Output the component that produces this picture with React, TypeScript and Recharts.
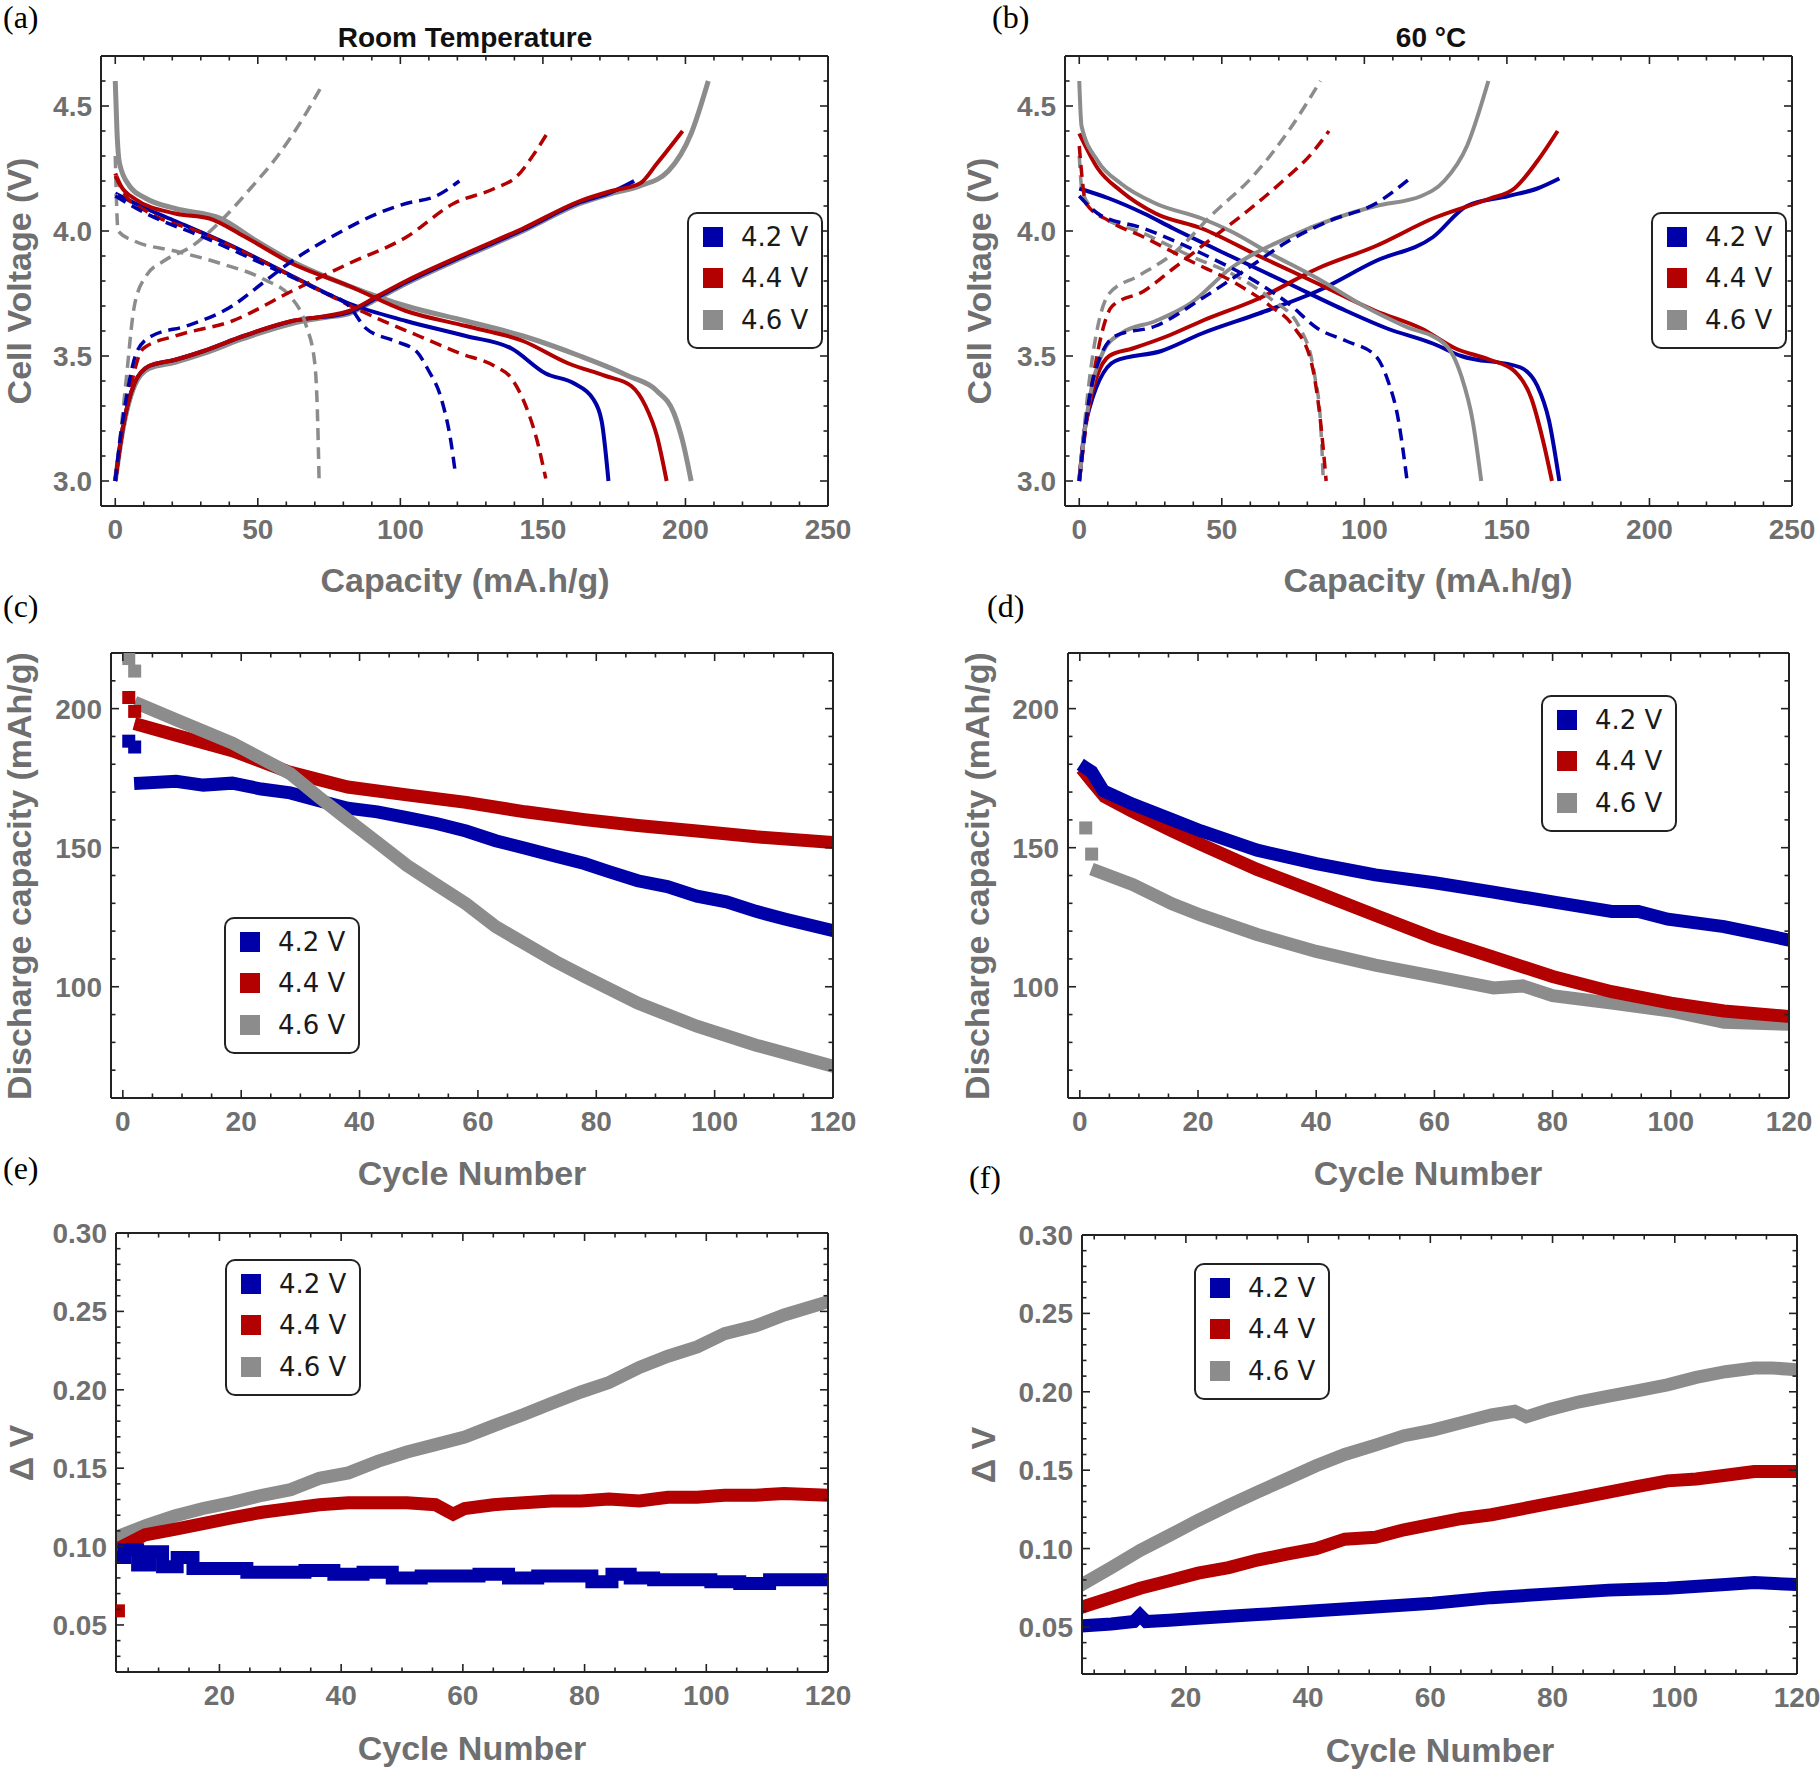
import React from "react";
import { ComposedChart, Line, Scatter, XAxis, YAxis } from "recharts";

// colours used by every panel
const BLUE = "#0000a8";
const RED = "#b30000";
const GRAY = "#8c8c8c";
const FRAME = "#222";
const TICK_TEXT = "#6f6f6f";

type Pt = [number, number];

// ---------- (a) room temperature voltage profiles: [capacity mAh/g, V] ----------
const rtChargeBlue: Pt[] = [[0, 3.0], [2.6, 3.21], [6.7, 3.39], [11.8, 3.46], [21, 3.485], [31, 3.52], [45, 3.58], [62, 3.64], [82, 3.675], [92, 3.735], [102, 3.795], [123, 3.905], [143, 4.005], [163, 4.115], [174, 4.155], [182, 4.2]];
const rtDischargeBlue: Pt[] = [[0, 4.15], [10.8, 4.09], [21, 4.04], [41, 3.94], [62, 3.82], [82, 3.71], [102, 3.64], [123, 3.58], [139, 3.53], [151, 3.43], [161, 3.39], [167.5, 3.33], [170.6, 3.24], [173, 3.0]];
const rtChargeRed: Pt[] = [[0, 3.0], [2.6, 3.21], [6.7, 3.39], [11.8, 3.46], [21, 3.485], [31, 3.52], [45, 3.58], [62, 3.64], [74, 3.66], [82, 3.68], [92, 3.74], [102, 3.8], [123, 3.91], [143, 4.01], [163, 4.12], [174, 4.16], [184, 4.19], [190, 4.27], [199, 4.4]];
const rtDischargeRed: Pt[] = [[0, 4.23], [2, 4.18], [6.7, 4.13], [21, 4.07], [33, 4.05], [45, 3.98], [62, 3.87], [82, 3.78], [102, 3.68], [123, 3.62], [143, 3.56], [159, 3.47], [172, 3.42], [181, 3.38], [186, 3.3], [190, 3.18], [193.4, 3.0]];
const rtChargeGray: Pt[] = [[0, 3.0], [2.6, 3.2], [6.7, 3.38], [11.8, 3.45], [21, 3.475], [31, 3.51], [45, 3.57], [62, 3.63], [74, 3.655], [82, 3.67], [92, 3.73], [102, 3.79], [123, 3.9], [143, 4.0], [163, 4.11], [174, 4.15], [184, 4.18], [194, 4.24], [202, 4.39], [208, 4.6]];
const rtDischargeGray: Pt[] = [[0, 4.6], [0.6, 4.4], [1.5, 4.27], [5, 4.18], [10.8, 4.13], [21, 4.09], [37, 4.05], [49.5, 3.96], [61.7, 3.88], [82, 3.78], [102, 3.7], [123, 3.64], [143, 3.58], [163, 3.5], [180, 3.42], [190, 3.36], [196, 3.27], [199, 3.16], [202, 3.0]];
const rtAgedChargeBlue: Pt[] = [[0, 3.0], [1.5, 3.15], [3.7, 3.32], [7.7, 3.52], [12.8, 3.58], [25, 3.62], [41, 3.7], [51.5, 3.79], [62, 3.88], [78, 3.99], [92, 4.07], [102, 4.11], [112.6, 4.14], [120.7, 4.2]];
const rtAgedDischargeBlue: Pt[] = [[0, 4.14], [10.8, 4.07], [31, 3.975], [51.5, 3.87], [72, 3.76], [82, 3.7], [88, 3.61], [98, 3.56], [105.5, 3.52], [109.5, 3.45], [114.6, 3.32], [117.7, 3.16], [119.3, 3.03]];
const rtAgedChargeRed: Pt[] = [[0, 3.0], [1.5, 3.12], [3.7, 3.27], [9.8, 3.53], [21, 3.58], [41, 3.64], [62, 3.76], [82, 3.87], [102, 3.975], [118.7, 4.11], [133, 4.17], [141, 4.22], [147, 4.31], [152, 4.4]];
const rtAgedDischargeRed: Pt[] = [[0, 4.22], [3.7, 4.14], [10.8, 4.08], [31, 3.99], [51.5, 3.88], [72, 3.76], [92, 3.65], [106.5, 3.58], [121, 3.51], [133, 3.46], [139, 3.41], [144, 3.3], [148, 3.16], [151, 3.01]];
const rtAgedChargeGray: Pt[] = [[0, 3.0], [1.6, 3.16], [3.7, 3.39], [6.7, 3.7], [10.8, 3.82], [17, 3.88], [27, 3.94], [37, 4.04], [47.4, 4.17], [57.6, 4.31], [65.8, 4.45], [72.9, 4.59]];
const rtAgedDischargeGray: Pt[] = [[0, 4.3], [1, 4.0], [6.7, 3.96], [21, 3.92], [37, 3.87], [51.5, 3.81], [62, 3.73], [67, 3.62], [70, 3.47], [71, 3.24], [71.5, 3.0]];

// ---------- (b) 60 °C voltage profiles ----------
const htChargeBlue: Pt[] = [[0, 3.0], [2.4, 3.24], [12.6, 3.48], [28.8, 3.52], [43, 3.59], [63, 3.67], [83.6, 3.76], [104, 3.88], [124, 3.975], [136, 4.1], [150.5, 4.14], [160.7, 4.17], [168.4, 4.21]];
const htDischargeBlue: Pt[] = [[0, 4.17], [10.5, 4.13], [22.7, 4.07], [33, 4.01], [53, 3.9], [73.4, 3.79], [93.7, 3.68], [108, 3.61], [124, 3.55], [134, 3.5], [154.6, 3.455], [160.7, 3.38], [164.8, 3.24], [168.4, 3.0]];
const htChargeRed: Pt[] = [[0, 3.0], [2.4, 3.24], [10.5, 3.5], [18.7, 3.53], [31, 3.58], [43, 3.64], [63, 3.73], [83.6, 3.85], [104, 3.94], [124, 4.05], [144, 4.13], [152.6, 4.17], [160.7, 4.28], [167.8, 4.4]];
const htDischargeRed: Pt[] = [[0, 4.39], [6.5, 4.25], [14.6, 4.16], [26.8, 4.07], [43, 4.01], [63, 3.9], [83.6, 3.79], [104, 3.68], [120, 3.61], [132, 3.53], [144, 3.485], [152.6, 3.44], [158.6, 3.33], [162.7, 3.16], [165.8, 3.0]];
const htChargeGray: Pt[] = [[0, 3.0], [2.4, 3.24], [8.5, 3.52], [14.6, 3.59], [26.8, 3.64], [39, 3.71], [53, 3.85], [73.4, 3.975], [89.6, 4.05], [104, 4.1], [120, 4.14], [128, 4.2], [136, 4.34], [143.5, 4.6]];
const htDischargeGray: Pt[] = [[0, 4.6], [0.8, 4.42], [6.5, 4.28], [14.6, 4.19], [26.8, 4.11], [43, 4.05], [53, 4.0], [67, 3.91], [83.6, 3.81], [99.8, 3.7], [114, 3.62], [128, 3.55], [134, 3.42], [138, 3.24], [141, 3.0]];
const htAgedChargeBlue: Pt[] = [[0, 3.0], [4.5, 3.39], [12.6, 3.58], [26.8, 3.62], [43, 3.73], [59, 3.85], [73.4, 3.96], [87.6, 4.04], [104, 4.11], [116, 4.21]];
const htAgedDischargeBlue: Pt[] = [[0, 4.14], [6.5, 4.07], [22.7, 4.01], [43, 3.91], [63, 3.79], [73.4, 3.71], [83.6, 3.61], [93.7, 3.56], [104, 3.5], [108, 3.41], [112, 3.24], [115, 3.0]];
const htAgedChargeRed: Pt[] = [[0, 3.0], [4.5, 3.39], [11.6, 3.7], [22.7, 3.76], [33, 3.85], [47, 3.975], [59, 4.08], [71.4, 4.2], [81.5, 4.31], [87.6, 4.4]];
const htAgedDischargeRed: Pt[] = [[0, 4.34], [2.4, 4.11], [10.5, 4.04], [22.7, 3.975], [39, 3.88], [55, 3.79], [67, 3.7], [75, 3.62], [81.5, 3.47], [84.6, 3.24], [86.6, 3.0]];
const htAgedChargeGray: Pt[] = [[0, 3.0], [3.4, 3.39], [10.5, 3.75], [20.7, 3.82], [33, 3.91], [47, 4.07], [61, 4.22], [73.4, 4.4], [84.6, 4.6]];
const htAgedDischargeGray: Pt[] = [[0, 4.3], [1, 4.16], [6.5, 4.07], [22.7, 3.99], [39, 3.9], [55, 3.82], [67, 3.73], [77.5, 3.61], [82.6, 3.42], [84.6, 3.24], [85.6, 3.0]];

// ---------- (c) discharge capacity, room temperature: [cycle, mAh/g] ----------
const rtCapBlueFirst: Pt[] = [[1, 188.3], [2, 186.2]];
const rtCapBlue: Pt[] = [[3, 173.2], [9, 173.9], [13.6, 172.5], [18.5, 173.2], [23.4, 171.1], [28.3, 169.7], [33, 167], [38, 164.2], [43, 162.9], [48, 160.8], [53, 158.7], [58, 156], [63, 152.5], [68, 149.8], [73, 147], [78, 144.3], [82, 141.5], [87, 138.1], [92, 136], [97, 132.6], [102, 130.5], [107, 127.1], [112, 124.3], [120, 120.2]];
const rtCapRedFirst: Pt[] = [[1, 204], [2, 199]];
const rtCapRed: Pt[] = [[3, 194], [9, 190.4], [18.5, 184.9], [28, 177.3], [38, 171.8], [48, 169], [58, 166.3], [68, 162.9], [78, 160.1], [87, 158], [97, 156], [107, 153.9], [120, 151.9]];
const rtCapGrayFirst: Pt[] = [[1, 218], [2, 213.5]];
const rtCapGray: Pt[] = [[3, 201.4], [9, 196], [18.5, 187.6], [28.3, 176.6], [33, 168.4], [38, 160.1], [43, 151.9], [48, 143.6], [53, 136.7], [58, 129.8], [63, 121.6], [68, 115.4], [73, 109.2], [78, 103.7], [87, 94.1], [97, 85.8], [107, 79], [120, 71.4]];

// ---------- (d) discharge capacity, 60 °C ----------
const htCapBlue: Pt[] = [[1, 178.7], [2, 177.3], [4, 170.4], [9, 165.6], [15.6, 160.1], [20.5, 156], [30, 149.1], [40, 144.3], [50, 140.2], [60, 137.4], [70, 134], [80, 130.5], [90, 127.1], [94.5, 127.1], [99.5, 124.3], [109, 121.6], [120, 116.8]];
const htCapRed: Pt[] = [[1, 176.6], [2.3, 173.2], [4.2, 168.4], [9, 162.9], [15.6, 156], [20.5, 151.2], [30, 142.2], [40, 134], [50, 125.7], [60, 117.5], [70, 110.6], [80, 103.7], [90, 98.2], [100, 94.1], [109, 91.3], [120, 89.3]];
const htCapGrayFirst: Pt[] = [[1, 157.1], [2, 147.7]];
const htCapGray: Pt[] = [[3, 141.5], [9, 136.7], [15.6, 129.8], [20.5, 125.7], [30, 118.8], [40, 112.7], [50, 107.8], [60, 103.7], [70, 99.6], [75, 100.3], [80, 96.8], [90, 94.1], [100, 91.3], [109, 87.2], [120, 86.5]];

// ---------- (e) ΔV, room temperature: [cycle, V] ----------
const rtDvBlue: Pt[] = [[3, 0.093], [5.8, 0.098], [7.3, 0.0883], [9.7, 0.0967], [11.6, 0.0872], [14.5, 0.0931], [16.8, 0.086], [22, 0.086], [27, 0.0836], [31.7, 0.0836], [36.4, 0.0848], [41.2, 0.0824], [46, 0.0836], [50.8, 0.08], [55.5, 0.0812], [60.3, 0.0812], [65, 0.0824], [70, 0.08], [74.6, 0.0812], [79.4, 0.0812], [83, 0.0776], [86, 0.0824], [89, 0.08], [93.7, 0.0788], [98.5, 0.0788], [103, 0.0776], [108, 0.0764], [112.8, 0.0788], [120, 0.0788]];
const rtDvRedFirst: Pt[] = [[3.4, 0.059]];
const rtDvRed: Pt[] = [[4, 0.1], [7.8, 0.1075], [12.6, 0.111], [17.3, 0.1147], [22, 0.1183], [27, 0.1219], [31.7, 0.1243], [36.4, 0.1267], [41.2, 0.128], [46, 0.128], [50.8, 0.128], [55.5, 0.1267], [58.4, 0.1207], [60.3, 0.1243], [65, 0.1267], [70, 0.128], [74.6, 0.1291], [79.4, 0.1291], [84, 0.1303], [89, 0.1291], [93.7, 0.1315], [98.5, 0.1315], [103, 0.1327], [108, 0.1327], [112.8, 0.1339], [120, 0.1327]];
const rtDvGray: Pt[] = [[3, 0.106], [8, 0.1135], [12.6, 0.1195], [17.3, 0.1243], [22, 0.128], [27, 0.1327], [31.7, 0.1363], [36.4, 0.1435], [41.2, 0.147], [46, 0.1543], [50.8, 0.1603], [55.5, 0.165], [60.3, 0.1698], [65, 0.177], [70, 0.1842], [74.6, 0.1914], [79.4, 0.1986], [84, 0.2046], [89, 0.2142], [93.7, 0.2214], [98.5, 0.2274], [103, 0.2358], [108, 0.2406], [112.8, 0.2477], [120, 0.2561]];

// ---------- (f) ΔV, 60 °C ----------
const htDvBlue: Pt[] = [[3, 0.0507], [7.8, 0.0519], [11.5, 0.0535], [12.5, 0.0575], [13.5, 0.0535], [17.3, 0.0543], [22, 0.0555], [31.7, 0.0579], [41.3, 0.0603], [51, 0.0627], [60.4, 0.0651], [70, 0.0687], [79.6, 0.0711], [89.2, 0.0735], [98.8, 0.0747], [108.3, 0.0771], [113, 0.0783], [120, 0.0771]];
const htDvRed: Pt[] = [[3, 0.0627], [7.8, 0.0687], [12.5, 0.0747], [17.3, 0.0795], [22, 0.0843], [27, 0.0879], [31.7, 0.0927], [36.5, 0.0964], [41.3, 0.1], [46, 0.106], [51, 0.1072], [55.7, 0.112], [60.4, 0.1156], [65.2, 0.1192], [70, 0.1216], [74.8, 0.1252], [79.6, 0.1288], [84.4, 0.1324], [89.2, 0.136], [94, 0.1396], [98.8, 0.1432], [103.5, 0.1444], [108.3, 0.1468], [113, 0.1492], [120, 0.1492]];
const htDvGray: Pt[] = [[3, 0.0771], [7.8, 0.0879], [12.5, 0.0988], [17.3, 0.1084], [22, 0.118], [27, 0.1276], [31.7, 0.136], [36.5, 0.1444], [41.3, 0.1528], [46, 0.16], [51, 0.166], [55.7, 0.172], [60.4, 0.1756], [65.2, 0.1804], [70, 0.1852], [73.8, 0.1876], [75.7, 0.184], [79.6, 0.1888], [84.4, 0.1936], [89.2, 0.1972], [94, 0.2008], [98.8, 0.2044], [103.5, 0.2092], [108.3, 0.2128], [113, 0.2152], [116, 0.2152], [120, 0.214]];

// ---------- legend + tick labels ----------
const legendLabels = ["4.2 V", "4.4 V", "4.6 V"];
const legendColors = [BLUE, RED, GRAY];

const capMajor = [0, 50, 100, 150, 200, 250];
const voltMajor = [3.0, 3.5, 4.0, 4.5];
const cycleMajorCD = [0, 20, 40, 60, 80, 100, 120];
const dischargeMajor = [100, 150, 200];
const cycleMajorEF = [20, 40, 60, 80, 100, 120];
const dvMajor = [0.05, 0.1, 0.15, 0.2, 0.25, 0.3];

const range = (a: number, b: number, s: number) => {
  const out: number[] = [];
  for (let v = a; v <= b + s / 1000; v += s) out.push(Math.round(v * 1000) / 1000);
  return out;
};

const toRows = (arr: Pt[]) => arr.map(([x, y]) => ({ x, y }));

const PADL = 110;
const PADR = 40;
const PADT = 24;
const PADB = 50;

type Side = "bottom" | "top" | "left" | "right";

const renderTick = (side: Side, major: number[], fmt?: (v: number) => string) => (p: any) => {
  const { x, y, payload } = p;
  const v = payload.value;
  const isMajor = major.some((m) => Math.abs(m - v) < 1e-6);
  const len = isMajor ? 8 : 4.5;
  let x2 = x;
  let y2 = y;
  if (side === "bottom") y2 = y - len;
  if (side === "top") y2 = y + len;
  if (side === "left") x2 = x + len;
  if (side === "right") x2 = x - len;
  let label = null;
  if (fmt && isMajor) {
    const common = { fontFamily: "'Liberation Sans', Arial, sans-serif", fontWeight: 700, fontSize: 28, fill: TICK_TEXT };
    label =
      side === "bottom" ? (
        <text x={x} y={y + 33} textAnchor="middle" {...common}>{fmt(v)}</text>
      ) : (
        <text x={x - 9} y={y + 10} textAnchor="end" {...common}>{fmt(v)}</text>
      );
  }
  return (
    <g>
      <line x1={x} y1={y} x2={x2} y2={y2} stroke={FRAME} strokeWidth={1.6} />
      {label}
    </g>
  );
};

interface PanelProps {
  frame: [number, number, number, number];
  xDomain: [number, number];
  yDomain: [number, number];
  xMajor: number[];
  xTicks: number[];
  yMajor: number[];
  yTicks: number[];
  xFmt: (v: number) => string;
  yFmt: (v: number) => string;
  series: React.ReactNode[];
}

function Panel({ frame, xDomain, yDomain, xMajor, xTicks, yMajor, yTicks, xFmt, yFmt, series }: PanelProps) {
  const [l, t, r, b] = frame;
  const width = r - l + PADL + PADR;
  const height = b - t + PADT + PADB;
  const axisLine = { stroke: FRAME, strokeWidth: 2 };
  return (
    <div style={{ position: "absolute", left: l - PADL, top: t - PADT, width, height }}>
      <ComposedChart width={width} height={height} margin={{ top: 0, right: 0, bottom: 0, left: 0 }}>
        <XAxis xAxisId="main" dataKey="x" type="number" domain={xDomain} allowDataOverflow ticks={xTicks} interval={0}
          orientation="bottom" height={PADB} tickSize={0} tickMargin={0} tickLine={false} axisLine={axisLine}
          tick={renderTick("bottom", xMajor, xFmt)} />
        <XAxis xAxisId="top" dataKey="x" type="number" domain={xDomain} allowDataOverflow ticks={xTicks} interval={0}
          orientation="top" height={PADT} tickSize={0} tickMargin={0} tickLine={false} axisLine={axisLine}
          tick={renderTick("top", xMajor)} />
        <YAxis yAxisId="main" type="number" domain={yDomain} allowDataOverflow ticks={yTicks} interval={0}
          orientation="left" width={PADL} tickSize={0} tickMargin={0} tickLine={false} axisLine={axisLine}
          tick={renderTick("left", yMajor, yFmt)} />
        <YAxis yAxisId="right" type="number" domain={yDomain} allowDataOverflow ticks={yTicks} interval={0}
          orientation="right" width={PADR} tickSize={0} tickMargin={0} tickLine={false} axisLine={axisLine}
          tick={renderTick("right", yMajor)} />
        {series}
      </ComposedChart>
    </div>
  );
}

// thin voltage curve
const curve = (key: string, arr: Pt[], color: string, dashed = false, w = 4) => (
  <Line key={key} xAxisId="main" yAxisId="main" data={toRows(arr)} dataKey="y" type="monotone" stroke={color}
    strokeWidth={w} strokeDasharray={dashed ? "12 7" : undefined} dot={false} activeDot={false} isAnimationActive={false} />
);

// thick band of square markers
const band = (key: string, arr: Pt[], color: string, step = false) => (
  <Line key={key} xAxisId="main" yAxisId="main" data={toRows(arr)} dataKey="y" type={step ? "step" : "linear"} stroke={color}
    strokeWidth={13} strokeLinecap="square" strokeLinejoin="miter" dot={false} activeDot={false} isAnimationActive={false} />
);

const squares = (key: string, arr: Pt[], color: string) => (
  <Scatter key={key} xAxisId="main" yAxisId="main" data={toRows(arr)} dataKey="y" isAnimationActive={false}
    shape={(p: any) => <rect x={p.cx - 6.5} y={p.cy - 6.5} width={13} height={13} fill={color} />} />
);

function LegendBox({ left, top }: { left: number; top: number }) {
  return (
    <div style={{ position: "absolute", left, top, width: 136, height: 137, boxSizing: "border-box", border: `2px solid ${FRAME}`, borderRadius: 10, background: "#fff" }}>
      {legendLabels.map((lab, i) => (
        <React.Fragment key={lab}>
          <div style={{ position: "absolute", left: 14, top: 12.7 + i * 41.7, width: 20, height: 20, background: legendColors[i] }} />
          <div style={{ position: "absolute", left: 52, top: 7.7 + i * 41.7, lineHeight: "30px", fontSize: 26, fontFamily: "'DejaVu Sans', sans-serif", color: "#1a1a1a", whiteSpace: "nowrap" }}>{lab}</div>
        </React.Fragment>
      ))}
    </div>
  );
}

const f0 = (v: number) => String(v);
const f1 = (v: number) => v.toFixed(1);
const f2 = (v: number) => v.toFixed(2);

export default function App() {
  const capTicks = range(0, 250, 10);
  const voltTicks = range(3.0, 4.6, 0.1);
  const cycTicksCD = range(0, 120, 5);
  const dischTicks = range(70, 210, 10);
  const cycTicksEF = range(5, 120, 5);
  const dvTicks = range(0.03, 0.3, 0.01);

  const sans = "'Liberation Sans', Arial, sans-serif";
  const axisTitle = { fontFamily: sans, fontWeight: 700, fontSize: 34, fill: TICK_TEXT };
  const panelTag = { fontFamily: "'Liberation Serif', 'Times New Roman', serif", fontSize: 32, fill: "#000" };
  const title = { fontFamily: sans, fontWeight: 700, fontSize: 28, fill: "#111" };

  return (
    <div style={{ position: "absolute", left: 0, top: 0, width: 1820, height: 1771, background: "#fff", overflow: "hidden" }}>
      <Panel frame={[101, 56, 828, 506]} xDomain={[-5, 250]} yDomain={[2.9, 4.7]} xMajor={capMajor} xTicks={capTicks}
        yMajor={voltMajor} yTicks={voltTicks} xFmt={f0} yFmt={f1}
        series={[
          curve("a1", rtChargeGray, GRAY, false, 5), curve("a2", rtDischargeGray, GRAY, false, 5),
          curve("a3", rtChargeBlue, BLUE), curve("a4", rtDischargeBlue, BLUE),
          curve("a5", rtChargeRed, RED), curve("a6", rtDischargeRed, RED),
          curve("a7", rtAgedChargeGray, GRAY, true, 3.5), curve("a8", rtAgedDischargeGray, GRAY, true, 3.5),
          curve("a9", rtAgedChargeRed, RED, true, 3.5), curve("a10", rtAgedDischargeRed, RED, true, 3.5),
          curve("a11", rtAgedChargeBlue, BLUE, true, 3.5), curve("a12", rtAgedDischargeBlue, BLUE, true, 3.5),
        ]} />
      <Panel frame={[1065, 56, 1792, 506]} xDomain={[-5, 250]} yDomain={[2.9, 4.7]} xMajor={capMajor} xTicks={capTicks}
        yMajor={voltMajor} yTicks={voltTicks} xFmt={f0} yFmt={f1}
        series={[
          curve("b1", htChargeBlue, BLUE), curve("b2", htDischargeBlue, BLUE),
          curve("b3", htChargeRed, RED), curve("b4", htDischargeRed, RED),
          curve("b5", htChargeGray, GRAY), curve("b6", htDischargeGray, GRAY),
          curve("b7", htAgedChargeGray, GRAY, true, 3.5), curve("b8", htAgedDischargeGray, GRAY, true, 3.5),
          curve("b9", htAgedChargeRed, RED, true, 3.5), curve("b10", htAgedDischargeRed, RED, true, 3.5),
          curve("b11", htAgedChargeBlue, BLUE, true, 3.5), curve("b12", htAgedDischargeBlue, BLUE, true, 3.5),
        ]} />
      <Panel frame={[111, 653, 833, 1098]} xDomain={[-2, 120]} yDomain={[60, 220]} xMajor={cycleMajorCD} xTicks={cycTicksCD}
        yMajor={dischargeMajor} yTicks={dischTicks} xFmt={f0} yFmt={f0}
        series={[
          squares("c1", rtCapBlueFirst, BLUE), band("c2", rtCapBlue, BLUE),
          squares("c3", rtCapRedFirst, RED), band("c4", rtCapRed, RED),
          squares("c5", rtCapGrayFirst, GRAY), band("c6", rtCapGray, GRAY),
        ]} />
      <Panel frame={[1068, 653, 1789, 1098]} xDomain={[-2, 120]} yDomain={[60, 220]} xMajor={cycleMajorCD} xTicks={cycTicksCD}
        yMajor={dischargeMajor} yTicks={dischTicks} xFmt={f0} yFmt={f0}
        series={[
          squares("d1", htCapGrayFirst, GRAY), band("d2", htCapGray, GRAY),
          band("d3", htCapRed, RED), band("d4", htCapBlue, BLUE),
        ]} />
      <Panel frame={[116, 1233, 828, 1672]} xDomain={[3, 120]} yDomain={[0.02, 0.3]} xMajor={cycleMajorEF} xTicks={cycTicksEF}
        yMajor={dvMajor} yTicks={dvTicks} xFmt={f0} yFmt={f2}
        series={[
          band("e1", rtDvGray, GRAY), squares("e2", rtDvRedFirst, RED), band("e3", rtDvRed, RED),
          band("e4", rtDvBlue, BLUE, true),
        ]} />
      <Panel frame={[1082, 1235, 1797, 1674]} xDomain={[3, 120]} yDomain={[0.02, 0.3]} xMajor={cycleMajorEF} xTicks={cycTicksEF}
        yMajor={dvMajor} yTicks={dvTicks} xFmt={f0} yFmt={f2}
        series={[band("f1", htDvGray, GRAY), band("f2", htDvRed, RED), band("f3", htDvBlue, BLUE)]} />

      <LegendBox left={687} top={212} />
      <LegendBox left={1651} top={212} />
      <LegendBox left={224} top={917} />
      <LegendBox left={1541} top={695} />
      <LegendBox left={225} top={1259} />
      <LegendBox left={1194} top={1263} />

      <svg width={1820} height={1771} style={{ position: "absolute", left: 0, top: 0, pointerEvents: "none" }}>
        <text x={3} y={28} {...panelTag}>(a)</text>
        <text x={992} y={28} {...panelTag}>(b)</text>
        <text x={3} y={617} {...panelTag}>(c)</text>
        <text x={987} y={617} {...panelTag}>(d)</text>
        <text x={3} y={1179} {...panelTag}>(e)</text>
        <text x={969} y={1188} {...panelTag}>(f)</text>

        <text x={465} y={47} textAnchor="middle" {...title}>Room Temperature</text>
        <text x={1431} y={47} textAnchor="middle" {...title}>60 °C</text>

        <text x={465} y={592} textAnchor="middle" {...axisTitle}>Capacity (mA.h/g)</text>
        <text x={1428} y={592} textAnchor="middle" {...axisTitle}>Capacity (mA.h/g)</text>
        <text x={472} y={1185} textAnchor="middle" {...axisTitle}>Cycle Number</text>
        <text x={1428} y={1185} textAnchor="middle" {...axisTitle}>Cycle Number</text>
        <text x={472} y={1760} textAnchor="middle" {...axisTitle}>Cycle Number</text>
        <text x={1440} y={1762} textAnchor="middle" {...axisTitle}>Cycle Number</text>

        <text transform="translate(19,281) rotate(-90)" textAnchor="middle" dominantBaseline="central" {...axisTitle}>Cell Voltage (V)</text>
        <text transform="translate(979,281) rotate(-90)" textAnchor="middle" dominantBaseline="central" {...axisTitle}>Cell Voltage (V)</text>
        <text transform="translate(19,876) rotate(-90)" textAnchor="middle" dominantBaseline="central" {...axisTitle}>Discharge capacity (mAh/g)</text>
        <text transform="translate(977,876) rotate(-90)" textAnchor="middle" dominantBaseline="central" {...axisTitle}>Discharge capacity (mAh/g)</text>
        <text transform="translate(21,1453) rotate(-90)" textAnchor="middle" dominantBaseline="central" {...axisTitle}>Δ V</text>
        <text transform="translate(983,1455) rotate(-90)" textAnchor="middle" dominantBaseline="central" {...axisTitle}>Δ V</text>
      </svg>
    </div>
  );
}
